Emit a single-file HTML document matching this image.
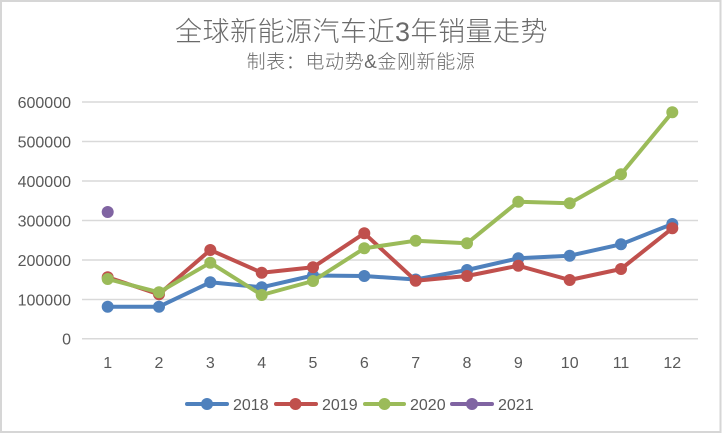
<!DOCTYPE html>
<html><head><meta charset="utf-8"><style>
html,body{margin:0;padding:0;background:#fff;}
svg{display:block;}
</style></head><body>
<svg width="722" height="434" viewBox="0 0 722 434" xmlns="http://www.w3.org/2000/svg">
<rect x="0" y="0" width="722" height="434" fill="#ffffff"/>
<rect x="1" y="1" width="719.5" height="431" fill="none" stroke="#d6d6d6" stroke-width="2"/>
<text x="361.5" y="41" text-anchor="middle" font-family="'Liberation Sans','Noto Sans CJK SC',sans-serif" font-size="27" font-weight="300" letter-spacing="0.5" fill="#6a6a6a">全球新能源汽车近3年销量走势</text>
<text x="361" y="68" text-anchor="middle" font-family="'Liberation Sans','Noto Sans CJK SC',sans-serif" font-size="19" font-weight="300" letter-spacing="0.6" fill="#6a6a6a">制表：电动势&amp;金刚新能源</text>
<g stroke="#d9d9d9" stroke-width="1.5">
<line x1="82" y1="102" x2="698" y2="102"/>
<line x1="82" y1="141.5" x2="698" y2="141.5"/>
<line x1="82" y1="181" x2="698" y2="181"/>
<line x1="82" y1="220.5" x2="698" y2="220.5"/>
<line x1="82" y1="260" x2="698" y2="260"/>
<line x1="82" y1="299.5" x2="698" y2="299.5"/>
<line x1="82" y1="338.7" x2="698" y2="338.7"/>
</g>
<g font-family="'Liberation Sans',sans-serif" font-size="16" fill="#595959" text-anchor="end">
<text x="71" y="108">600000</text>
<text x="71" y="147.5">500000</text>
<text x="71" y="187">400000</text>
<text x="71" y="226.5">300000</text>
<text x="71" y="266">200000</text>
<text x="71" y="305.5">100000</text>
<text x="71" y="344.7">0</text>
</g>
<g font-family="'Liberation Sans',sans-serif" font-size="16" fill="#595959" text-anchor="middle">
<text x="107.7" y="368">1</text>
<text x="159" y="368">2</text>
<text x="210.3" y="368">3</text>
<text x="261.7" y="368">4</text>
<text x="313" y="368">5</text>
<text x="364.3" y="368">6</text>
<text x="415.7" y="368">7</text>
<text x="467" y="368">8</text>
<text x="518.3" y="368">9</text>
<text x="569.7" y="368">10</text>
<text x="621" y="368">11</text>
<text x="672.3" y="368">12</text>
</g>
<!-- 2018 -->
<g stroke="#4F81BD" fill="#4F81BD" stroke-width="4" stroke-linejoin="round" stroke-linecap="round">
<polyline fill="none" points="107.7,306.7 159,306.7 210.3,282.3 261.7,287.3 313,275.5 364.3,276 415.7,279.5 467,270 518.3,258.3 569.7,255.7 621,244.3 672.3,224"/>
<g stroke="none">
<circle cx="107.7" cy="306.7" r="6"/><circle cx="159" cy="306.7" r="6"/><circle cx="210.3" cy="282.3" r="6"/><circle cx="261.7" cy="287.3" r="6"/><circle cx="313" cy="275.5" r="6"/><circle cx="364.3" cy="276" r="6"/><circle cx="415.7" cy="279.5" r="6"/><circle cx="467" cy="270" r="6"/><circle cx="518.3" cy="258.3" r="6"/><circle cx="569.7" cy="255.7" r="6"/><circle cx="621" cy="244.3" r="6"/><circle cx="672.3" cy="224" r="6"/>
</g></g>
<!-- 2019 -->
<g stroke="#C0504D" fill="#C0504D" stroke-width="4" stroke-linejoin="round" stroke-linecap="round">
<polyline fill="none" points="107.7,277.3 159,294.3 210.3,250 261.7,272.7 313,267.3 364.3,233.3 415.7,280.7 467,276 518.3,265.7 569.7,280 621,269 672.3,228.3"/>
<g stroke="none">
<circle cx="107.7" cy="277.3" r="6"/><circle cx="159" cy="294.3" r="6"/><circle cx="210.3" cy="250" r="6"/><circle cx="261.7" cy="272.7" r="6"/><circle cx="313" cy="267.3" r="6"/><circle cx="364.3" cy="233.3" r="6"/><circle cx="415.7" cy="280.7" r="6"/><circle cx="467" cy="276" r="6"/><circle cx="518.3" cy="265.7" r="6"/><circle cx="569.7" cy="280" r="6"/><circle cx="621" cy="269" r="6"/><circle cx="672.3" cy="228.3" r="6"/>
</g></g>
<!-- 2020 -->
<g stroke="#9BBB59" fill="#9BBB59" stroke-width="4" stroke-linejoin="round" stroke-linecap="round">
<polyline fill="none" points="107.7,279 159,292.3 210.3,262.7 261.7,295 313,281 364.3,248.3 415.7,240.7 467,243.3 518.3,201.7 569.7,203.3 621,174.3 672.3,112.3"/>
<g stroke="none">
<circle cx="107.7" cy="279" r="6"/><circle cx="159" cy="292.3" r="6"/><circle cx="210.3" cy="262.7" r="6"/><circle cx="261.7" cy="295" r="6"/><circle cx="313" cy="281" r="6"/><circle cx="364.3" cy="248.3" r="6"/><circle cx="415.7" cy="240.7" r="6"/><circle cx="467" cy="243.3" r="6"/><circle cx="518.3" cy="201.7" r="6"/><circle cx="569.7" cy="203.3" r="6"/><circle cx="621" cy="174.3" r="6"/><circle cx="672.3" cy="112.3" r="6"/>
</g></g>
<!-- 2021 -->
<circle cx="107.7" cy="212" r="6" fill="#8064A2"/>
<!-- legend -->
<g stroke-width="4" stroke-linecap="round">
<line x1="187" y1="404" x2="227" y2="404" stroke="#4F81BD"/>
<line x1="276" y1="404" x2="316" y2="404" stroke="#C0504D"/>
<line x1="365" y1="404" x2="404" y2="404" stroke="#9BBB59"/>
<line x1="452" y1="404" x2="492" y2="404" stroke="#8064A2"/>
</g>
<circle cx="207" cy="404" r="6" fill="#4F81BD"/>
<circle cx="295.5" cy="404" r="6" fill="#C0504D"/>
<circle cx="384.5" cy="404" r="6" fill="#9BBB59"/>
<circle cx="472" cy="404" r="6" fill="#8064A2"/>
<g font-family="'Liberation Sans',sans-serif" font-size="16" fill="#595959">
<text x="233" y="410">2018</text>
<text x="322" y="410">2019</text>
<text x="410" y="410">2020</text>
<text x="498" y="410">2021</text>
</g>
</svg>
</body></html>
